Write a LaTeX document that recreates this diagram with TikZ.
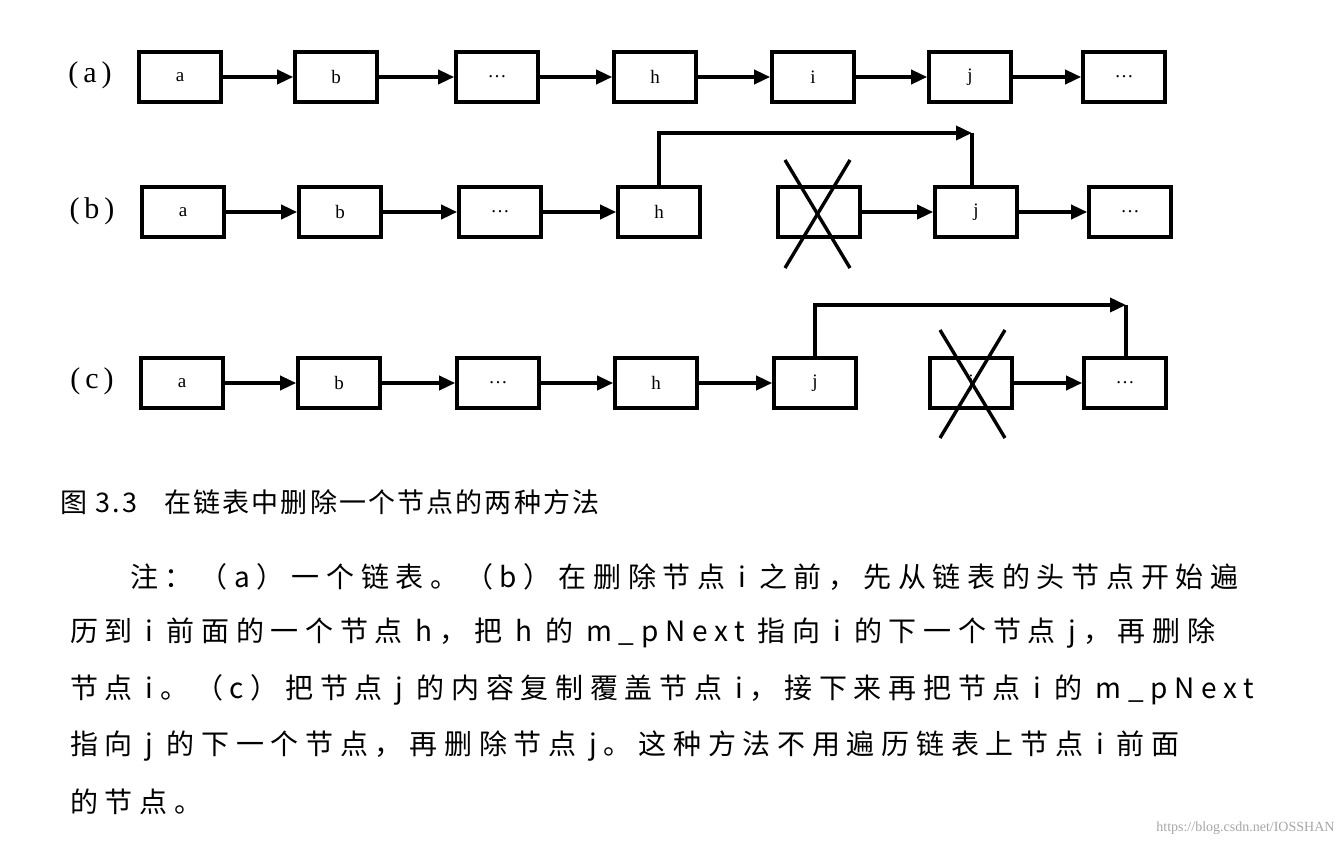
\documentclass[tikz,border=0pt]{standalone}
\usepackage{fontspec}
\setmainfont{Liberation Serif}
\newfontfamily\cjk{Noto Sans CJK SC}
\newfontfamily\cjknote[LetterSpace=24]{Noto Sans CJK SC}
\newfontfamily\cjkcap[LetterSpace=8]{Noto Sans CJK SC}
\usetikzlibrary{arrows.meta}
\begin{document}
\begin{tikzpicture}[x=1pt,y=-1pt,
  box/.style={draw,line width=3.6pt,minimum width=82pt,minimum height=50pt,inner sep=0pt,font=\fontsize{19}{19}\selectfont},
  lnk/.style={line width=3.6pt,-{Triangle[length=16pt,width=14pt]}},
  crs/.style={line width=3.4pt},
  lab/.style={font=\fontsize{30}{30}\selectfont},
  txt/.style={anchor=west,inner sep=0pt,font=\cjknote\fontsize{28}{28}\selectfont}]
\useasboundingbox (0,0) rectangle (1344,846);
% row a
\node[lab] (la) at (90,75) {(\,a\,)};
\foreach \n/\x/\t in {a1/180/a,a2/336/b,a3/497/\dots,a4/655/h,a5/813/i,a6/970/j,a7/1124/\dots}
  \node[box] (\n) at (\x,77) {\t};
\foreach \p/\q in {a1/a2,a2/a3,a3/a4,a4/a5,a5/a6,a6/a7} \draw[lnk] (\p) -- (\q);
% row b
\node[lab] (lb) at (92,211) {(\,b\,)};
\foreach \n/\x/\t in {b1/183/a,b2/340/b,b3/500/\dots,b4/659/h,b5/819/,b6/976/j,b7/1130/\dots}
  \node[box] (\n) at (\x,212) {\t};
\foreach \p/\q in {b1/b2,b2/b3,b3/b4,b5/b6,b6/b7} \draw[lnk] (\p) -- (\q);
\coordinate (bt) at (972,133);
\draw[lnk] (b4.north) -- (b4.north |- bt) -- (bt);
\draw[crs] (bt) -- (bt |- b6.north);
\draw[crs] (785,160) -- (850,268);
\draw[crs] (850,160) -- (785,268);
% row c
\node[lab] (lc) at (92,381) {(\,c\,)};
\foreach \n/\x/\t in {c1/182/a,c2/339/b,c3/498/\dots,c4/656/h,c5/815/j,c6/971/j,c7/1125/\dots}
  \node[box] (\n) at (\x,383) {\t};
\foreach \p/\q in {c1/c2,c2/c3,c3/c4,c4/c5,c6/c7} \draw[lnk] (\p) -- (\q);
\coordinate (ct) at (1126,305);
\draw[lnk] (c5.north) -- (c5.north |- ct) -- (ct);
\draw[crs] (ct) -- (ct |- c7.north);
\draw[crs] (940,330) -- (1005,438);
\draw[crs] (1005,330) -- (940,438);
% caption and note
\node[anchor=west,inner sep=0pt,font=\cjkcap\fontsize{27}{27}\selectfont] (cap) at (60,502) {图 3.3\quad 在链表中删除一个节点的两种方法};
\node[txt] (n1) at (130,577) {注：（a）一个链表。（b）在删除节点 i 之前，先从链表的头节点开始遍};
\node[txt] (n2) at (70,633) {历到 i 前面的一个节点 h，把 h 的 m\_pNext 指向 i 的下一个节点 j，再删除};
\node[txt] (n3) at (70,690) {节点 i。（c）把节点 j 的内容复制覆盖节点 i，接下来再把节点 i 的 m\_pNext};
\node[txt] (n4) at (70,746) {指向 j 的下一个节点，再删除节点 j。这种方法不用遍历链表上节点 i 前面};
\node[txt] (n5) at (70,802) {的节点。};
\node[anchor=east,text=gray!70,font=\fontsize{14}{14}\selectfont] (wm) at (1338,828) {https://blog.csdn.net/IOSSHAN};
\end{tikzpicture}
\end{document}
